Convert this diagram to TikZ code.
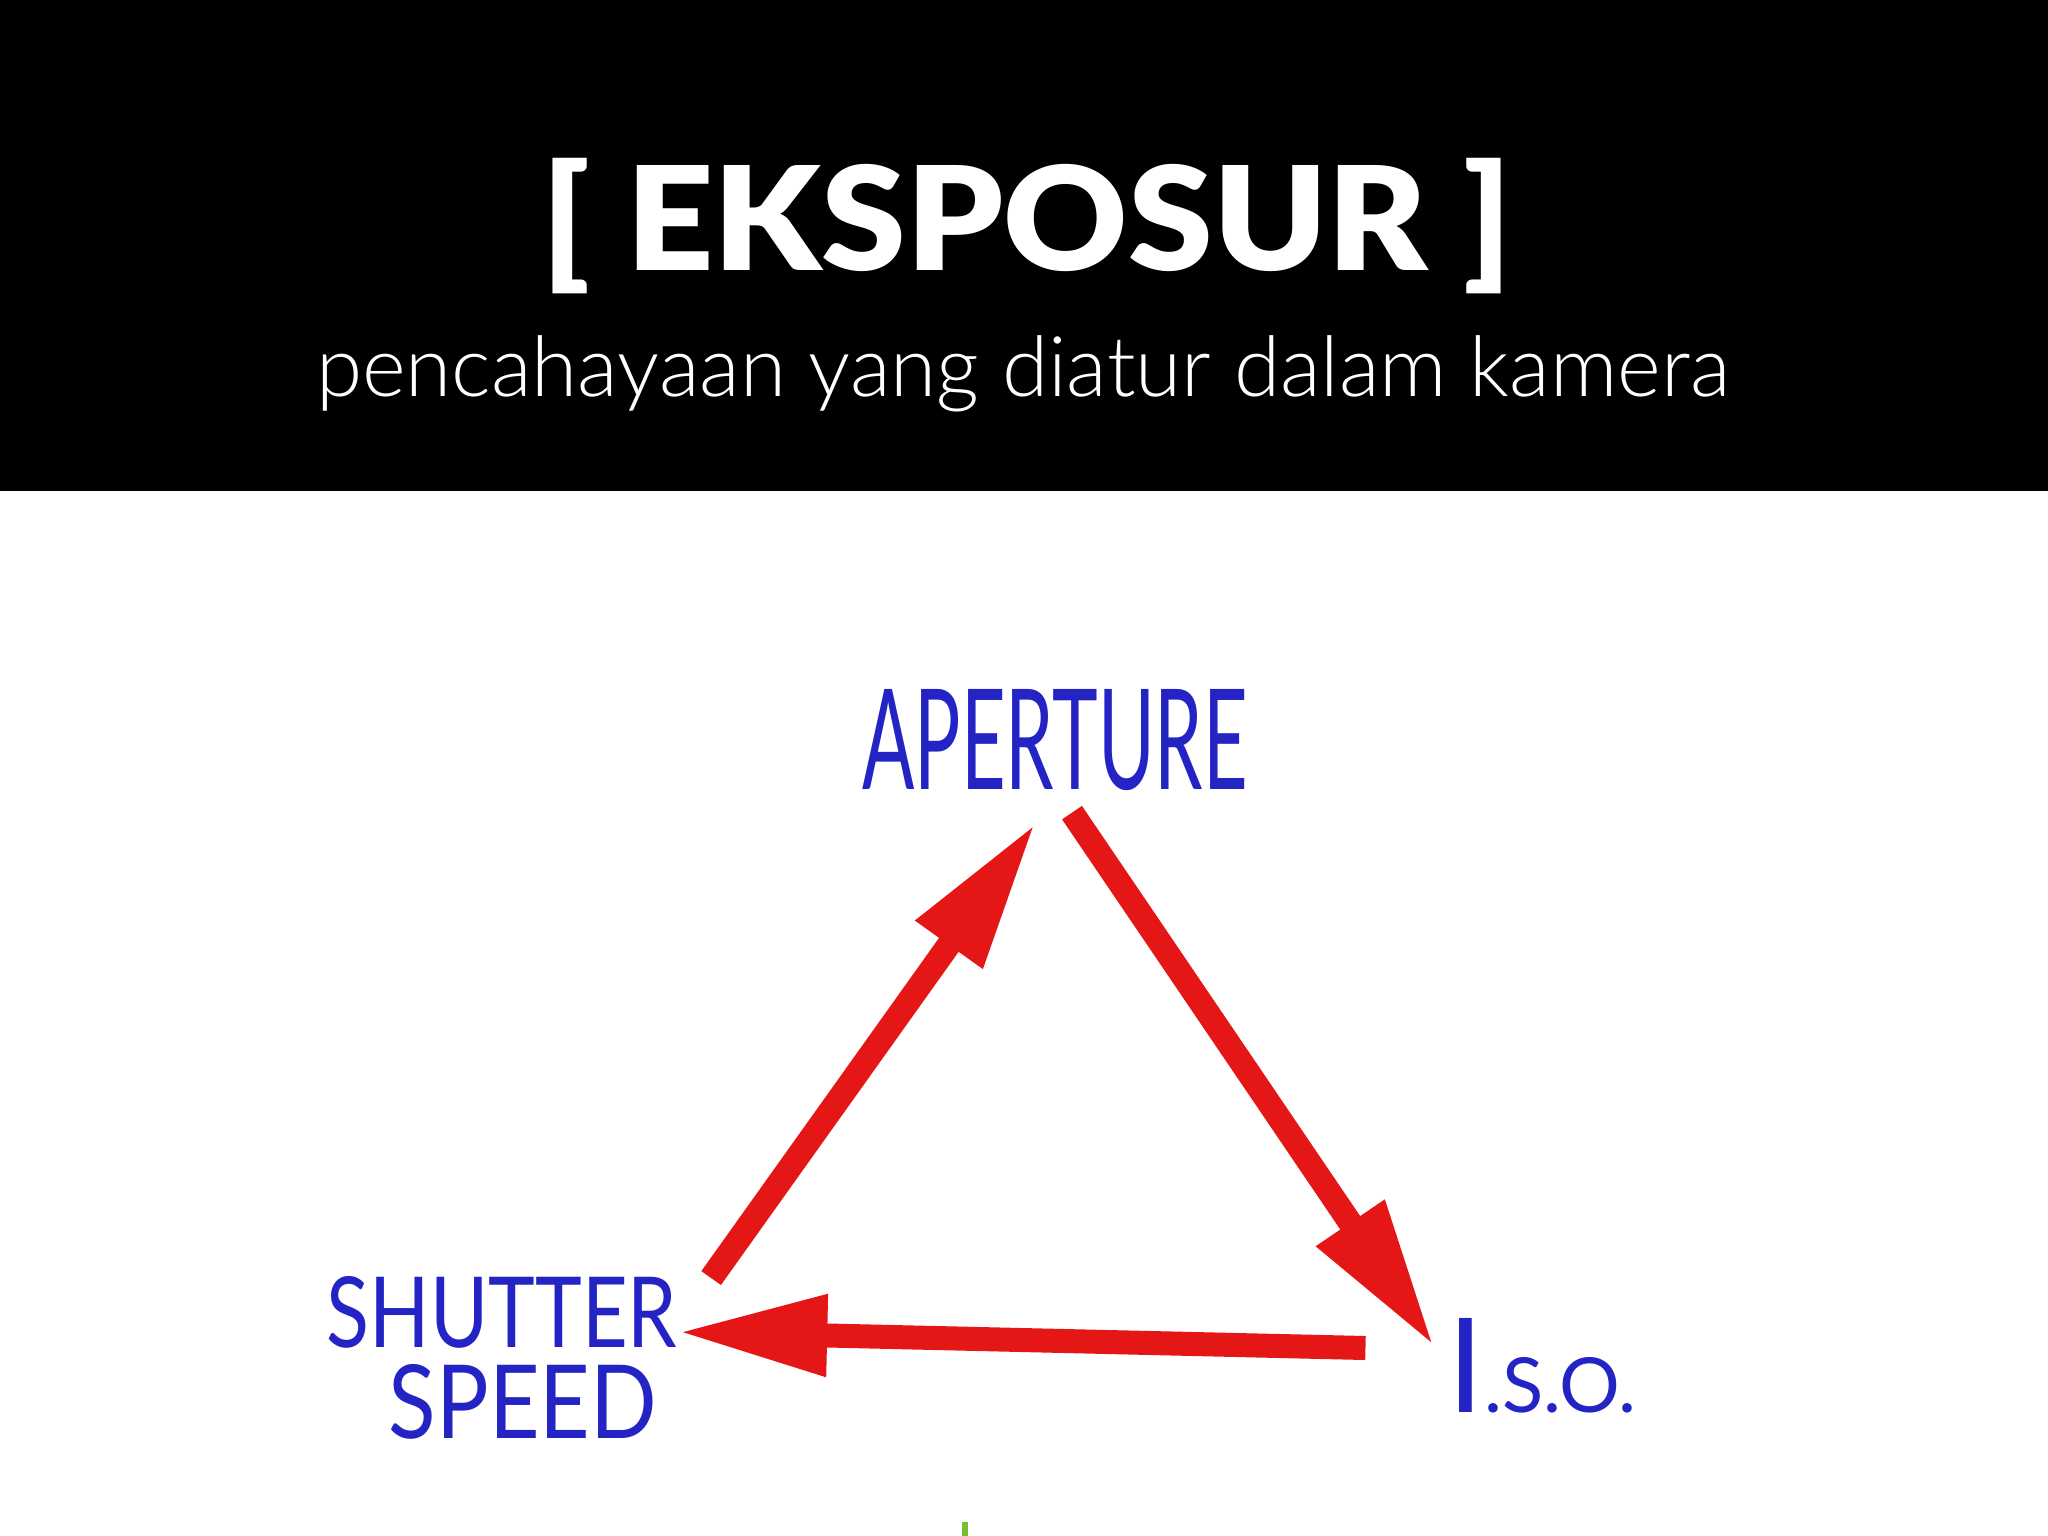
\documentclass[tikz,border=0pt]{standalone}
\usepackage{fontspec}
\setmainfont{Lato}
\newfontfamily\titlefont{Lato Black}
\newfontfamily\subfont{Lato Light}
\usetikzlibrary{calc}
\usetikzlibrary{arrows.meta}
\definecolor{penblue}{RGB}{36,36,196}
\definecolor{arrowred}{RGB}{228,22,22}
\definecolor{leafgreen}{RGB}{120,190,50}

\begin{document}
\begin{tikzpicture}[%
        x = 0.01cm,
        y = -0.01cm,
        line width = 0.24cm,
        pen/.style = {inner sep = 0pt, text = penblue},
        redarrow/.style = {draw = arrowred, -{Triangle[length=1.5cm, width=0.76cm]}},
        ]

\useasboundingbox[] (0,0) rectangle (2048,1536);
\fill[black] (0,0) rectangle (2048,491);


\node (title) [text = white, anchor = base, inner sep = 0pt,
    font = \fontsize{41}{48}\selectfont\titlefont] at (1027,270)
    {\scalebox{1.06}[1]{[ EKSPOSUR ]}};
\node (subtitle) [text = white, anchor = base, inner sep = 0pt,
    font = \fontsize{23.8}{28}\selectfont\subfont] at (1023,396)
    {pencahayaan yang diatur dalam kamera};


\node (aperture) [pen] at (1055,740) {\resizebox{3.85cm}{1cm}{APERTURE}};
\node (shutter) [pen] at (502,1312) {\resizebox{3.5cm}{0.71cm}{SHUTTER}};
\node (speed) [pen] at (523,1402) {\resizebox{2.68cm}{0.74cm}{SPEED}};
\node (iso) [pen] at (1542,1366)
    {\resizebox{!}{0.94cm}{I}\resizebox{!}{0.55cm}{.S.O.}};


\draw[redarrow] ($(shutter.north east)+(22,14)$) -- ($(aperture.south)+(-19,20)$);
\draw[redarrow] ($(aperture.south)+(17,10)$) -- ($(iso.west)+(-1,-19)$);
\draw[redarrow] ($(iso.west)+(-70,-18)$) -- ($(shutter.east)+(-12,20)$);

% cut off at the foot
\draw[leafgreen, line width = 0.06cm] (965,1522) -- (965,1536);

\end{tikzpicture}
\end{document}
